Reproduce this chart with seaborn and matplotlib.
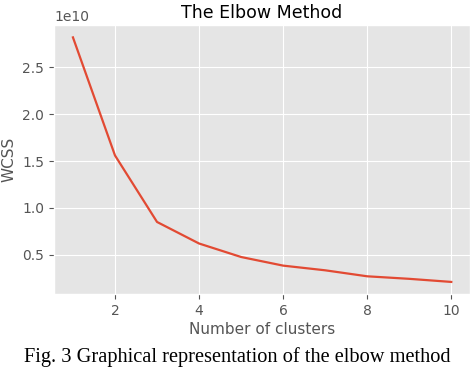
import numpy as np
import matplotlib
matplotlib.use("Agg")
import matplotlib.pyplot as plt
import seaborn as sns
import pandas as pd

# === Data ===
clusters = [1, 2, 3, 4, 5, 6, 7, 8, 9, 10]
wcss = [2.82e10, 1.56e10, 0.85e10, 0.62e10, 0.476e10, 0.384e10, 0.334e10, 0.27e10, 0.243e10, 0.21e10]

df = pd.DataFrame({"k": clusters, "wcss": wcss})

plt.style.use("ggplot")
fig = plt.figure(figsize=(4.74, 3.7), dpi=100)
ax = fig.add_axes([0.114, 0.205, 0.878, 0.727])

sns.lineplot(data=df, x="k", y="wcss", ax=ax, color="#E24A33", linewidth=1.6)

ax.set_title("The Elbow Method", fontsize=12.5, color="black", pad=5)
ax.set_xlabel("Number of clusters", fontsize=11, color="#555555", labelpad=3)
ax.set_ylabel("WCSS", fontsize=11, color="#555555")
ax.tick_params(labelsize=10, colors="#555555")
ax.set_xticks([2, 4, 6, 8, 10])
ax.yaxis.get_offset_text().set_fontsize(10)

# caption under the chart
fig.text(0.5, 0.036, "Fig. 3 Graphical representation of the elbow method",
         ha="center", va="center", fontsize=14.7, family="Liberation Serif")

fig.savefig("out.png", dpi=100)
